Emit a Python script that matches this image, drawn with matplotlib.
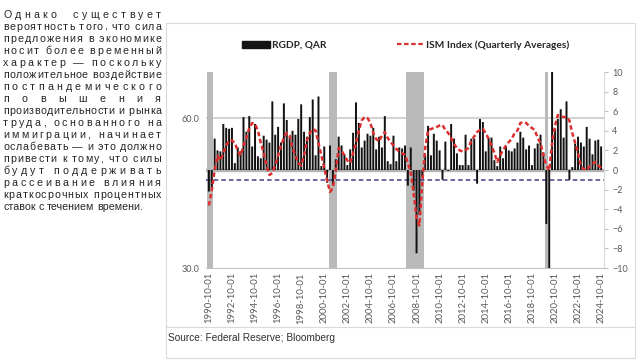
import numpy as np
import pandas as pd
import matplotlib
matplotlib.use("Agg")
import matplotlib.pyplot as plt
from matplotlib.patches import Rectangle, Patch
from matplotlib.lines import Line2D
from matplotlib.transforms import blended_transform_factory

plt.rcParams['font.family'] = ['Lato', 'DejaVu Sans']

### data
quarters = pd.date_range('1990-10-01', '2024-10-01', freq='QS-OCT')

# real GDP, q/q annualized
rgdp = [-2.2,
        -1.9, 3.2, 2.0, 1.9,   4.7, 4.3, 4.2, 4.3,   0.7, 2.3, 1.9, 5.4,
        3.9, 5.5, 2.4, 4.7,    1.4, 1.2, 3.5, 3.1,   2.8, 7.0, 3.6, 4.4,
        2.8, 6.8, 5.1, 3.4,    4.0, 3.6, 5.2, 6.7,   3.9, 3.4, 5.4, 7.2,
        1.5, 7.5, 0.4, 2.4,    -1.3, 2.5, -1.6, 1.1, 3.4, 2.5, 1.6, 0.5,
        2.1, 3.8, 6.9, 4.8,    2.3, 3.0, 3.7, 3.5,   4.3, 2.1, 3.4, 2.3,
        5.5, 0.9, 0.6, 3.5,    0.9, 2.3, 2.2, 2.5,   -1.6, 2.3, -2.1, -8.5,
        -4.6, -0.7, 1.5, 4.5,  1.5, 3.7, 3.0, 2.0,   -1.0, 2.9, -0.1, 4.7,
        3.2, 1.7, 0.5, 0.5,    3.6, 0.5, 3.2, 3.2,   -1.4, 5.2, 4.9, 1.9,
        3.3, 3.3, 1.0, 0.4,    2.4, 1.2, 2.4, 2.0,   1.9, 2.2, 2.8, 3.9,
        3.3, 2.1, 2.5, 0.5,    2.2, 2.7, 3.6, 1.8,   -5.5, -28.0, 34.8, 4.2,
        5.2, 6.2, 3.3, 7.0,    -1.0, 0.3, 2.7, 3.4,  2.8, 2.4, 4.4, 3.2,
        1.6, 3.0, 3.1, 2.4]

# ISM index, quarterly averages
ism = [42.5,
       45.5, 49.5, 52.5, 51.5,  53.0, 54.5, 55.5, 55.5,  55.0, 53.5, 52.5, 54.5,
       56.0, 58.0, 59.0, 58.8,  57.5, 55.0, 53.0, 50.5,  48.6, 49.0, 50.5, 52.5,
       54.5, 56.0, 57.0, 56.5,  54.0, 52.5, 51.0, 50.5,  52.5, 55.5, 57.0, 57.8,
       57.5, 55.0, 52.5, 50.0,  47.5, 45.2, 46.0, 49.5,  54.0, 53.5, 52.5, 51.5,
       51.0, 53.0, 55.0, 57.5,  59.5, 60.2, 60.0, 59.0,  57.0, 55.8, 55.3, 56.5,
       57.2, 56.0, 55.2, 54.5,  53.8, 53.3, 53.0, 52.6,  51.0, 49.0, 45.0, 40.0,
       38.5, 47.0, 54.0, 57.6,  57.8, 58.0, 58.2, 58.5,  58.6, 57.6, 57.0, 56.0,
       54.8, 54.0, 53.5, 53.3,  53.6, 54.0, 55.5, 56.3,  57.2, 57.6, 57.8, 57.0,
       55.8, 54.5, 53.0, 51.2,  52.5, 53.6, 54.5, 55.2,  55.8, 57.0, 57.5, 59.0,
       59.2, 59.0, 58.4, 58.0,  57.6, 56.0, 55.0, 52.5,  50.5, 49.5, 55.0, 58.5,
       60.6, 60.3, 60.2, 60.2,  59.5, 57.0, 55.0, 53.0,  50.2, 49.8, 49.6, 50.3,
       50.8, 51.2, 50.5, 50.0]

# recessions (first and last quarter)
rec_start = ['1990-10-01', '2001-04-01', '2008-01-01', '2020-01-01']
rec_end = ['1991-01-01', '2001-10-01', '2009-04-01', '2020-01-01']

rgdp_line = -1.0

legend_labels = ['RGDP, QAR', 'ISM Index (Quarterly Averages)']
source = 'Source: Federal Reserve; Bloomberg'

para_lines = [
    'Однако  существует',
    'вероятность того, что сила',
    'предложения в экономике',
    'носит более временный',
    'характер — поскольку',
    'положительное воздействие',
    'постпандемического',
    'повышения',
    'производительности и рынка',
    'труда, основанного на',
    'иммиграции, начинает',
    'ослабевать — и это должно',
    'привести к тому, что силы',
    'будут поддерживать',
    'рассеивание влияния',
    'краткосрочных процентных',
    'ставок с течением времени.',
]

W, H = 640, 360
fig = plt.figure(figsize=(6.4, 3.6), dpi=100)
fig.patch.set_facecolor('white')
renderer = fig.canvas.get_renderer()


def text_width(s, **kw):
    t = fig.text(0, 0, s, **kw)
    w = t.get_window_extent(renderer).width
    t.remove()
    return w


#### justified paragraph on the left
para_kw = dict(fontsize=7.7, family=['Liberation Sans', 'DejaVu Sans'],
               color='#262626', va='center', ha='left')
left_px, right_px = 3, 161
top_px, step_px = 14.5, 12.06
target = right_px - left_px
sp = text_width('н н', **para_kw) - 2 * text_width('н', **para_kw)

for k, line in enumerate(para_lines):
    y = 1 - (top_px + k * step_px) / H
    words = line.split()
    ww = [text_width(w, **para_kw) for w in words]
    if k == len(para_lines) - 1:
        mode, gap = 'word', sp
    else:
        gap = (target - sum(ww)) / (len(words) - 1) if len(words) > 1 else 99
        mode = 'word' if gap < 2.5 * sp else 'letter'
    if mode == 'word':
        x = left_px
        for w, wd in zip(words, ww):
            fig.text(x / W, y, w, **para_kw)
            x += wd + gap
    else:
        chars = list(line)
        cw = [sp if c == ' ' else text_width(c, **para_kw) for c in chars]
        extra = (target - sum(cw)) / (len(chars) - 1)
        x = left_px
        for c, wd in zip(chars, cw):
            if c != ' ':
                fig.text(x / W, y, c, **para_kw)
            x += wd + extra

#### frame of the chart picture
fig.add_artist(Rectangle((166 / W, 1 - 358 / H), 469 / W, 335 / H,
                         transform=fig.transFigure, fill=False,
                         ec='#dadada', lw=0.8))
fig.add_artist(Line2D([166 / W, 635 / W], [1 - 327 / H] * 2,
                      transform=fig.transFigure, color='#dadada', lw=0.8))
fig.text(168 / W, 1 - 338 / H, source, fontsize=7.3,
         family=['Liberation Sans', 'DejaVu Sans'], color='#303030', va='center')

#### chart
idx = np.arange(len(quarters))
pos = {d: i for i, d in enumerate(quarters.strftime('%Y-%m-%d'))}

ax = fig.add_axes([206 / W, 92 / H, 398 / W, 196 / H])
ax2 = ax.twinx()

for s, e in zip(rec_start, rec_end):
    ax.axvspan(pos[s] - 0.5, pos[e] + 0.5, color='#b9b9b9', lw=0, zorder=1)

grid_tr = blended_transform_factory(ax.transAxes, ax2.transData)
ax.plot([0, 1], [60, 60], transform=grid_tr, color='#d3d3d3', lw=1.5, zorder=0.5)
ax.axhline(0, color='#b3b3b3', lw=2.4, zorder=2)
ax.axhline(rgdp_line, color='#463f8f', lw=1.1, ls=(0, (3, 2)), zorder=2.5)
ax.bar(idx, rgdp, width=0.68, color='#111111', lw=0, zorder=3, snap=False)

ax2.plot(idx, ism, color='#dc3030', lw=1.8, ls=(0, (1.8, 1.1)))

ax.set_xlim(-1, len(quarters))
ax.set_ylim(-10, 10)
ax2.set_ylim(30, 69.2)

ax.set_yticks(range(-10, 11, 2))
ax.yaxis.tick_right()
ax.tick_params(axis='y', length=3, color='#bfbfbf', labelsize=6.5,
               labelcolor='#595959', pad=3)
ax.set_xticks(idx[::8])
ax.set_xticklabels(quarters[::8].strftime('%Y-%m-%d'), rotation=90)
ax.tick_params(axis='x', length=0, labelsize=6.8, labelcolor='#595959', pad=3)

ax2.yaxis.tick_left()
ax2.set_yticks([30, 60])
ax2.set_yticklabels(['30.0', '60.0'])
ax2.tick_params(axis='y', length=0, labelsize=6.5, labelcolor='#595959', pad=5)

for sp_name in ['top', 'left']:
    ax.spines[sp_name].set_visible(False)
ax.spines['bottom'].set_color('#c4c4c4')
ax.spines['right'].set_color('#d9d9d9')
for sp_name in ax2.spines:
    ax2.spines[sp_name].set_visible(False)

handles = [Patch(color='#141414'),
           Line2D([], [], color='#dc3030', lw=1.6, ls=(0, (2, 1.2)))]
fig.legend(handles, legend_labels, loc='center', ncol=2,
           bbox_to_anchor=(406 / W, 1 - 45 / H), frameon=False,
           prop={'family': 'Lato', 'weight': 'bold', 'size': 7.3},
           handlelength=2.7, handletextpad=0.2, columnspacing=7.0,
           labelcolor='#262626')

fig.savefig('out.png', dpi=100)
